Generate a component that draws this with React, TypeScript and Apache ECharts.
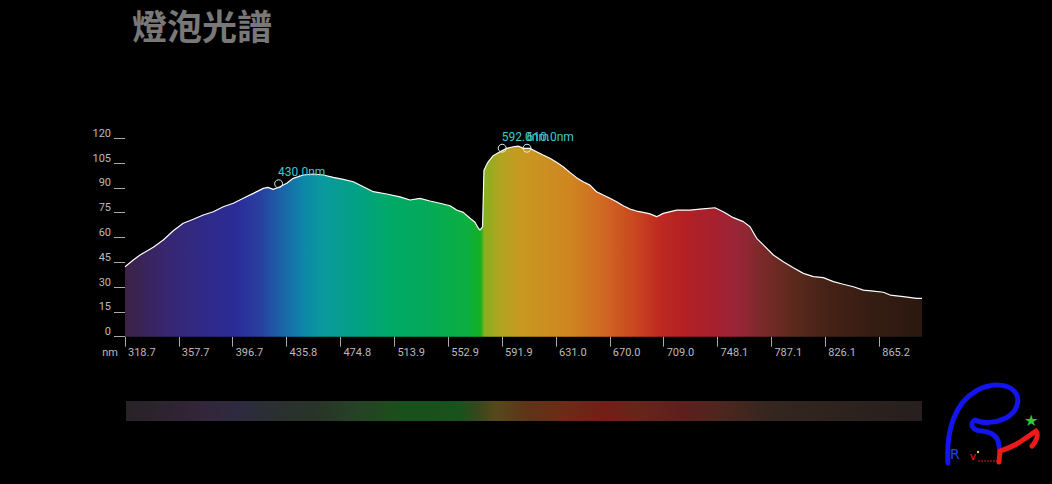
import React, { useEffect, useRef } from "react";
import * as echarts from "echarts";

// ---- data ----
const TITLE = "燈泡光譜";
const WAVELENGTHS = [
  318.7, 324.7, 329.6, 339.2, 346.4, 353.7, 360.9, 368.2, 375.4, 382.7,
  389.9, 397.2, 404.4, 411.7, 418.9, 422.3, 426.1, 431.0, 435.9, 440.6,
  447.9, 455.1, 462.4, 469.6, 476.9, 484.1, 491.4, 498.6, 508.3, 518.0,
  525.2, 532.4, 539.7, 546.9, 554.2, 559.0, 563.8, 568.7, 572.3, 574.7,
  575.9, 577.8, 578.8, 580.6, 581.9, 585.5, 590.4, 595.2, 600.0, 603.6,
  607.3, 612.1, 616.9, 621.7, 626.6, 631.4, 636.2, 641.1, 645.9, 650.7,
  655.6, 660.4, 665.2, 670.1, 674.9, 679.7, 684.6, 689.4, 694.2, 699.1,
  703.9, 708.7, 718.4, 728.1, 735.3, 746.2, 752.2, 759.5, 766.7, 771.6,
  776.4, 781.2, 788.5, 795.7, 803.0, 810.2, 817.5, 824.7, 832.0, 839.2,
  846.5, 853.7, 861.0, 868.2, 873.1, 882.7, 892.3, 896.2,
];
const INTENSITY = [
  42.3, 46.4, 49.4, 54.1, 58.5, 64.1, 68.6, 71.0, 73.6, 75.6,
  78.6, 80.7, 83.7, 86.7, 89.7, 90.3, 89.1, 90.7, 92.8, 95.8,
  97.8, 98.4, 97.8, 96.4, 95.2, 93.7, 90.7, 87.7, 86.3, 84.6,
  82.7, 83.7, 82.1, 80.7, 79.2, 76.6, 75.2, 71.6, 69.2, 65.6,
  64.5, 66.5, 100.5, 103.8, 105.8, 109.5, 111.9, 113.9, 114.9, 115.3,
  113.9, 113.9, 111.9, 109.9, 107.9, 105.5, 102.8, 99.4, 96.2, 93.7,
  91.7, 87.7, 85.7, 83.7, 81.6, 79.2, 77.2, 76.0, 75.2, 74.3,
  72.6, 74.6, 76.6, 76.6, 77.2, 78.0, 75.6, 72.0, 69.6, 66.5,
  59.5, 55.5, 49.4, 45.4, 41.7, 38.3, 36.3, 35.7, 33.3, 31.7,
  30.2, 28.2, 27.6, 26.9, 25.2, 24.2, 23.2, 23.2,
];
const X_TICKS = [
  318.7, 357.7, 396.7, 435.8, 474.8, 513.9, 552.9, 591.9, 631.0, 670.0,
  709.0, 748.1, 787.1, 826.1, 865.2,
];
const X_MIN = 318.7;
const X_MAX = 896.2;
const Y_MAX = 120;
const Y_STEP = 15;
const PEAK_WL = [430.0, 592.0, 610.0];
const PEAK_VAL = [92.5, 114, 114];
const PEAK_LABELS = ["430.0nm", "592.0nm", "610.0nm"];

// spectrum colours (fraction across the axis -> colour)
const AREA_STOPS: [number, string][] = [
  [0, "#3b2245"], [0.05, "#382670"], [0.1, "#2f2a88"], [0.14, "#2a2c98"],
  [0.17, "#2840a0"], [0.2, "#1a68a8"], [0.225, "#0c88a8"], [0.25, "#0a9a9c"],
  [0.29, "#02a084"], [0.33, "#00a868"], [0.38, "#04aa58"], [0.43, "#0caf40"],
  [0.446, "#12b020"], [0.451, "#88b020"], [0.47, "#b0a420"], [0.5, "#c89820"],
  [0.56, "#d08420"], [0.6, "#d06822"], [0.645, "#c84220"], [0.67, "#be2a20"],
  [0.7, "#b42024"], [0.745, "#a42030"], [0.77, "#982636"], [0.8, "#7a2a2a"],
  [0.84, "#5a2a1c"], [0.88, "#462216"], [0.94, "#341c12"], [1, "#2c1810"],
];
const BAR_STOPS: [number, string][] = [
  [0, "#282226"], [0.1, "#33263a"], [0.14, "#2e2a40"], [0.19, "#2a3030"],
  [0.24, "#283428"], [0.29, "#264226"], [0.345, "#1a501a"], [0.42, "#1a521c"],
  [0.44, "#34481c"], [0.465, "#58481c"], [0.505, "#5e3418"], [0.545, "#6c2c16"],
  [0.605, "#721e16"], [0.64, "#682618"], [0.7, "#5e1e1e"], [0.74, "#50261e"],
  [0.81, "#34261f"], [0.91, "#2c221e"], [1, "#27201e"],
];

const BLUE_D =
  "M948,463 C946,430 955,403 976,391 C990,383 1008,383 1015,392 C1021,400 1017,412 1006,418 C996,423 982,424 975,420 C969,423 972,431 982,431 C992,432 998,437 999,445 L1000,453";
const RED_D =
  "M999,462 L1000,451 C1006,449 1014,446 1020,442 C1026,438 1032,434 1036,431 C1039,435 1036,442 1032,446";

let registered = false;
function registerLogo() {
  if (registered) return;
  registered = true;
  echarts.graphic.registerShape("logoBlue", echarts.graphic.extendPath(BLUE_D, {}) as any);
  echarts.graphic.registerShape("logoRed", echarts.graphic.extendPath(RED_D, {}) as any);
}

export default function App() {
  const ref = useRef<HTMLDivElement>(null);
  useEffect(() => {
    if (!ref.current) return;
    registerLogo();
    const chart = echarts.init(ref.current, null, { renderer: "svg" });
    const font = "Roboto, 'Noto Sans', sans-serif";
    chart.setOption({
      animation: false,
      backgroundColor: "#000000",
      title: {
        text: TITLE,
        left: 127,
        top: 2,
        textStyle: {
          color: "#787878",
          fontSize: 35,
          fontWeight: "bold",
          fontFamily: "'Noto Sans CJK TC', sans-serif",
        },
      },
      grid: { left: 125, right: 130, top: 138.3, bottom: 147.3 },
      xAxis: {
        type: "value",
        min: X_MIN,
        max: X_MAX,
        name: "nm",
        nameLocation: "start",
        nameGap: 7,
        nameTextStyle: {
          color: "#bbbbbb",
          fontSize: 11,
          fontFamily: font,
          verticalAlign: "top",
          padding: [10, 0, 0, 0],
        },
        axisLine: { show: false },
        axisTick: {
          show: true,
          customValues: X_TICKS,
          length: 10,
          lineStyle: { color: "#aaaaaa", width: 1 },
        },
        axisLabel: {
          customValues: X_TICKS,
          formatter: (v: number) => v.toFixed(1),
          align: "left",
          padding: [0, 0, 0, 3],
          margin: 10,
          color: "#bbbbbb",
          fontSize: 11,
          fontFamily: font,
        },
        splitLine: { show: false },
      },
      yAxis: {
        type: "value",
        min: 0,
        max: Y_MAX,
        interval: Y_STEP,
        axisLine: { show: false },
        axisTick: { show: true, length: 11, lineStyle: { color: "#aaaaaa", width: 1 } },
        axisLabel: {
          color: "#bbbbbb",
          fontSize: 11,
          fontFamily: font,
          margin: 14,
          verticalAlign: "bottom",
          lineHeight: 10,
        },
        splitLine: { show: false },
      },
      series: [
        {
          type: "line",
          data: WAVELENGTHS.map((w, i) => [w, INTENSITY[i]]),
          showSymbol: false,
          lineStyle: { color: "#ffffff", width: 1.2 },
          itemStyle: { color: "#ffffff" },
          areaStyle: {
            opacity: 1,
            color: new echarts.graphic.LinearGradient(
              0, 0, 1, 0,
              AREA_STOPS.map(([offset, color]) => ({ offset, color }))
            ),
          },
          markPoint: {
            symbol: "circle",
            symbolSize: 8,
            itemStyle: { color: "rgba(0,0,0,0)", borderColor: "#d8f4f4", borderWidth: 1 },
            label: {
              show: true,
              formatter: (p: any) => p.name,
              position: [4, -7],
              align: "left",
              verticalAlign: "middle",
              color: "#3fc9d4",
              fontSize: 12,
              fontFamily: font,
            },
            data: PEAK_WL.map((w, i) => ({
              name: PEAK_LABELS[i],
              coord: [w, PEAK_VAL[i]],
            })),
          },
        },
      ],
      graphic: [
        {
          type: "rect",
          shape: { x: 126, y: 401, width: 796, height: 20 },
          style: {
            fill: new echarts.graphic.LinearGradient(
              0, 0, 1, 0,
              BAR_STOPS.map(([offset, color]) => ({ offset, color }))
            ),
          },
          silent: true,
        },
        {
          type: "logoBlue",
          x: 0,
          y: 0,
          style: { stroke: "#1414ee", fill: null, lineWidth: 5, lineCap: "round", lineJoin: "round" },
          silent: true,
        },
        {
          type: "logoRed",
          x: 0,
          y: 0,
          style: { stroke: "#ee1a1a", fill: null, lineWidth: 5, lineCap: "round", lineJoin: "round" },
          silent: true,
        },
        {
          type: "text",
          x: 1024,
          y: 412,
          style: { text: "★", fill: "#2ec83a", fontSize: 16, fontFamily: "DejaVu Sans" },
          silent: true,
        },
        {
          type: "text",
          x: 950,
          y: 447,
          style: { text: "R", fill: "#2040ff", fontSize: 14, fontFamily: "DejaVu Sans" },
          silent: true,
        },
        {
          type: "text",
          x: 970,
          y: 451,
          style: { text: "v", fill: "#ee2020", fontSize: 10, fontFamily: "DejaVu Sans" },
          silent: true,
        },
        {
          type: "circle",
          shape: { cx: 978, cy: 452, r: 1.2 },
          style: { fill: "#e8e040" },
          silent: true,
        },
        {
          type: "line",
          shape: { x1: 978, y1: 461, x2: 998, y2: 461 },
          style: { stroke: "#cc2020", lineWidth: 1, lineDash: [2, 1] },
          silent: true,
        },
      ],
    });
    return () => chart.dispose();
  }, []);
  return (
    <div
      ref={ref}
      style={{ position: "fixed", left: 0, top: 0, width: 1052, height: 484, background: "#000" }}
    />
  );
}
